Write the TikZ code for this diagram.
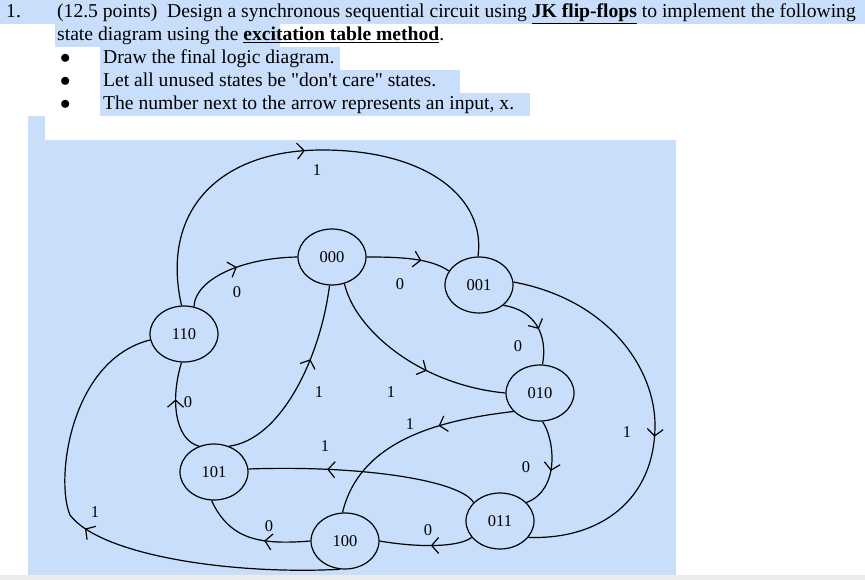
\documentclass[tikz,border=0pt]{standalone}
\usepackage{fontspec}
\setmainfont{Liberation Serif}[Ligatures=TeXOff]
\usetikzlibrary{shapes.geometric,decorations.markings,arrows.meta}
\definecolor{hl}{RGB}{200,222,250}
\tikzset{
 st/.style={ellipse,draw,line width=1.2pt,minimum width=68pt,minimum height=56pt,inner sep=0pt,font=\fontsize{16.5}{18}\selectfont},
 lb/.style={font=\fontsize{16.5}{18}\selectfont,inner sep=0pt},
 tx/.style={anchor=base west,inner sep=0pt,font=\fontsize{19.6}{22}\selectfont},
 ed/.style={line width=1.2pt},
 ma/.style={ed,postaction={decorate},decoration={markings,mark=at position #1 with {\arrow[line width=1.2pt]{Straight Barb[length=7pt,width=16pt]}}}}
}
\begin{document}
\begin{tikzpicture}[x=1pt,y=-1pt]
\useasboundingbox (0,0) rectangle (865,580);
\fill[white] (0,0) rectangle (865,580);
\fill[hl] (0,0) rectangle (865,24);
\fill[hl] (55,24) rectangle (280,47);
\fill[hl] (100,47) rectangle (340,70);
\fill[hl] (100,70) rectangle (460,93);
\fill[hl] (100,93) rectangle (530,116);
\fill[hl] (28,116) rectangle (45,140);
\fill[hl] (28,140) rectangle (676,575);
\fill[gray!15] (0,575) rectangle (865,580);
\node[tx] (t0) at (6,18) {1.};
\node[tx] (t1) at (57,18) {(12.5 points)\ \ Design a synchronous sequential circuit using \textbf{\underline{JK flip-flops}} to implement the following};
\node[tx] (t2) at (57,41) {state diagram using the \textbf{\underline{excitation table method}}.};
\node[tx] (b1) at (60,64) {$\bullet$};
\node[tx] (b2) at (60,87) {$\bullet$};
\node[tx] (b3) at (60,110) {$\bullet$};
\node[tx] (t3) at (103,64) {Draw the final logic diagram.};
\node[tx] (t4) at (103,87) {Let all unused states be "don't care" states.};
\node[tx] (t5) at (103,110) {The number next to the arrow represents an input, x.};

\node[st] (n000) at (332,257) {000};
\node[st] (n001) at (479,285) {001};
\node[st] (n110) at (184,334) {110};
\node[st] (n010) at (540,393) {010};
\node[st] (n101) at (214,472) {101};
\node[st] (n011) at (500,521) {011};
\node[st] (n100) at (345,541) {100};

\draw[ma=0.5] (n110.95) .. controls (160,210) and (220,150) .. (322,150) .. controls (430,150) and (486,200) .. (n001.92);
\node[lb] (l1) at (317,170) {1};
\draw[ma=0.5] (n110.70) .. controls (195,280) and (240,258) .. (n000.180);
\node[lb] (l2) at (237,292) {0};
\draw[ma=0.65] (n000.0) .. controls (400,257) and (430,258) .. (n001.155);
\node[lb] (l3) at (400,284) {0};
\draw[ma=0.62] (n101.60) .. controls (280,440) and (320,360) .. (n000.265);
\node[lb] (l4) at (319,392) {1};
\draw[ma=0.6] (n000.295) .. controls (355,330) and (420,385) .. (n010.180);
\node[lb] (l5) at (391,392) {1};
\draw[ma=0.55] (n001.320) .. controls (535,310) and (548,335) .. (n010.85);
\node[lb] (l6) at (518,346) {0};
\draw[ma=0.56] (n001.5) .. controls (610,300) and (655,370) .. (655,425) .. controls (655,500) and (600,540) .. (n011.330);
\node[lb] (l7) at (627,432) {1};
\draw[ma=0.36] (n010.215) .. controls (440,420) and (360,440) .. (n100.95);
\node[lb] (l8) at (410,424) {1};
\draw[ma=0.55] (n010.275) .. controls (555,440) and (560,490) .. (n011.35);
\node[lb] (l9) at (526,467) {0};
\draw[ma=0.66] (n011.145) .. controls (460,480) and (360,465) .. (n101.5);
\node[lb] (l10) at (325,446) {1};
\draw[ma=0.45] (n011.210) .. controls (460,547) and (420,548) .. (n100.0);
\node[lb] (l11) at (428,530) {0};
\draw[ma=0.4] (n100.180) .. controls (260,545) and (230,540) .. (n101.265);
\node[lb] (l12) at (269,526) {0};
\draw[ma=0.6] (n101.120) .. controls (175,440) and (170,400) .. (n110.265);
\node[lb] (l13) at (188,402) {0};
\draw[ma=0.53] (n100.260) .. controls (230,575) and (100,555) .. (70,515) .. controls (55,480) and (70,360) .. (n110.190);
\node[lb] (l14) at (95,512) {1};
\end{tikzpicture}
\end{document}
